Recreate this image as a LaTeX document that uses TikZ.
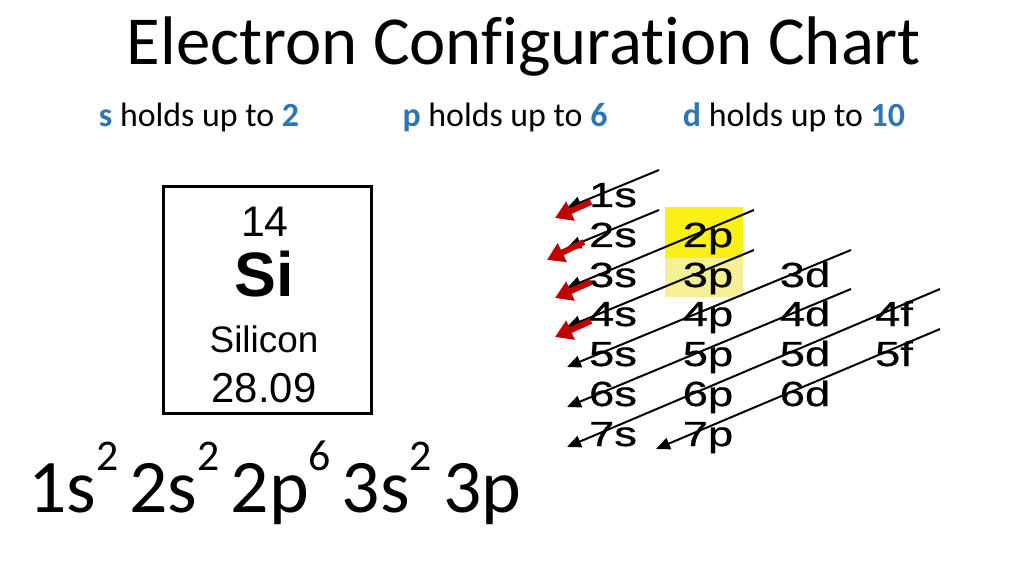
\documentclass[tikz,border=0pt]{standalone}
\usepackage{fontspec}
\setmainfont{Carlito}
\newfontfamily\arialfont{Liberation Sans}
\newfontfamily\chartfont[FakeStretch=1.3, FakeBold=0.6]{Liberation Sans}
\usetikzlibrary{arrows.meta, calc, positioning}
\definecolor{holdblue}{RGB}{46,117,182}
\definecolor{arrowred}{RGB}{192,0,0}
\definecolor{hiyellow}{RGB}{250,240,20}
\definecolor{paleyellow}{RGB}{245,240,150}
\newcommand{\pw}[1]{\raisebox{0.55em}{\fontsize{44}{44}\selectfont #1}\hskip 11bp}

\begin{document}
\begin{tikzpicture}[x=1bp, y=-1bp,
        orb/.style={font=\chartfont\fontsize{35}{35}\selectfont, inner sep=0pt, anchor=base},
        hold/.style={font=\fontsize{34}{34}\selectfont, anchor=base},
        elem/.style={font=\arialfont\fontsize{#1}{#1}\selectfont, anchor=base},
        diag/.style={line width=2bp, -{Triangle[length=14bp,width=12bp]}},
        redarrow/.style={arrowred, line width=6bp, -{Triangle[length=17bp,width=20bp]}}]
        \useasboundingbox (0,0) rectangle (1024,576);

        % title and capacities
        \node[font=\fontsize{69}{69}\selectfont\addfontfeatures{Ligatures=NoCommon}, anchor=base] (title) at (524,65) {Electron Configuration Chart};
        \node[hold] (sholds) at (199,127) {\textbf{\color{holdblue}s} holds up to \textbf{\color{holdblue}2}};
        \node[hold] (pholds) at (505,127) {\textbf{\color{holdblue}p} holds up to \textbf{\color{holdblue}6}};
        \node[hold] (dholds) at (794,127) {\textbf{\color{holdblue}d} holds up to \textbf{\color{holdblue}10}};

        % element box
        \node[draw, line width=3bp, minimum width=208bp, minimum height=226bp] (element) at (267,300) {};
        \node[elem=43] (number) at (265,237) {14};
        \node[elem=63] (symbol) at (264,297) {\bfseries Si};
        \node[elem=37] (name) at (264,352) {Silicon};
        \node[elem=42] (mass) at (264,402) {28.09};

        % highlighted sublevels
        \fill[hiyellow] (665,207) rectangle (743,258);
        \fill[paleyellow] (665,258) rectangle (743,297);

        % sublevels
        \node[orb] (o1s) at (613,207) {1s};
        \node[orb] (o2s) at (613,247) {2s};
        \node[orb] (o3s) at (613,287) {3s};
        \node[orb] (o4s) at (613,326) {4s};
        \node[orb] (o5s) at (613,366) {5s};
        \node[orb] (o6s) at (613,406) {6s};
        \node[orb] (o7s) at (613,446) {7s};
        \node[orb] (o2p) at (708,247) {2p};
        \node[orb] (o3p) at (708,287) {3p};
        \node[orb] (o4p) at (708,326) {4p};
        \node[orb] (o5p) at (708,366) {5p};
        \node[orb] (o6p) at (708,406) {6p};
        \node[orb] (o7p) at (708,446) {7p};
        \node[orb] (o3d) at (805,287) {3d};
        \node[orb] (o4d) at (805,326) {4d};
        \node[orb] (o5d) at (805,366) {5d};
        \node[orb] (o6d) at (805,406) {6d};
        \node[orb] (o4f) at (894,326) {4f};
        \node[orb] (o5f) at (894,366) {5f};

        % filling order
        \draw[diag] ($(o1s.base)+(46,-37)$) -- ($(o1s.base)+(-46,1)$);
        \draw[diag] ($(o2s.base)+(46,-37)$) -- ($(o2s.base)+(-46,1)$);
        \draw[diag] ($(o2p.base)+(46,-37)$) -- ($(o3s.base)+(-46,1)$);
        \draw[diag] ($(o3p.base)+(46,-37)$) -- ($(o4s.base)+(-46,1)$);
        \draw[diag] ($(o3d.base)+(46,-37)$) -- ($(o5s.base)+(-46,1)$);
        \draw[diag] ($(o4d.base)+(46,-37)$) -- ($(o6s.base)+(-46,1)$);
        \draw[diag] ($(o4f.base)+(46,-37)$) -- ($(o7s.base)+(-46,1)$);
        \draw[diag] ($(o5f.base)+(46,-37)$) -- ($(o7p.base)+(-52,3)$);

        \draw[redarrow] ($(o1s.base)+(-22,-5)$) -- ($(o1s.base)+(-58,11)$);
        \draw[redarrow] ($(o2s.base)+(-29,-5)$) -- ($(o2s.base)+(-66,13)$);
        \draw[redarrow] ($(o3s.base)+(-22,-5)$) -- ($(o3s.base)+(-58,11)$);
        \draw[redarrow] ($(o4s.base)+(-22,-5)$) -- ($(o4s.base)+(-58,11)$);

        % configuration
        \node[font=\fontsize{76}{76}\selectfont, anchor=base west, inner sep=0pt] (config) at (28,512)
            {1s\pw{2}2s\pw{2}2p\pw{6}3s\pw{2}3p};
    \end{tikzpicture}
\end{document}
